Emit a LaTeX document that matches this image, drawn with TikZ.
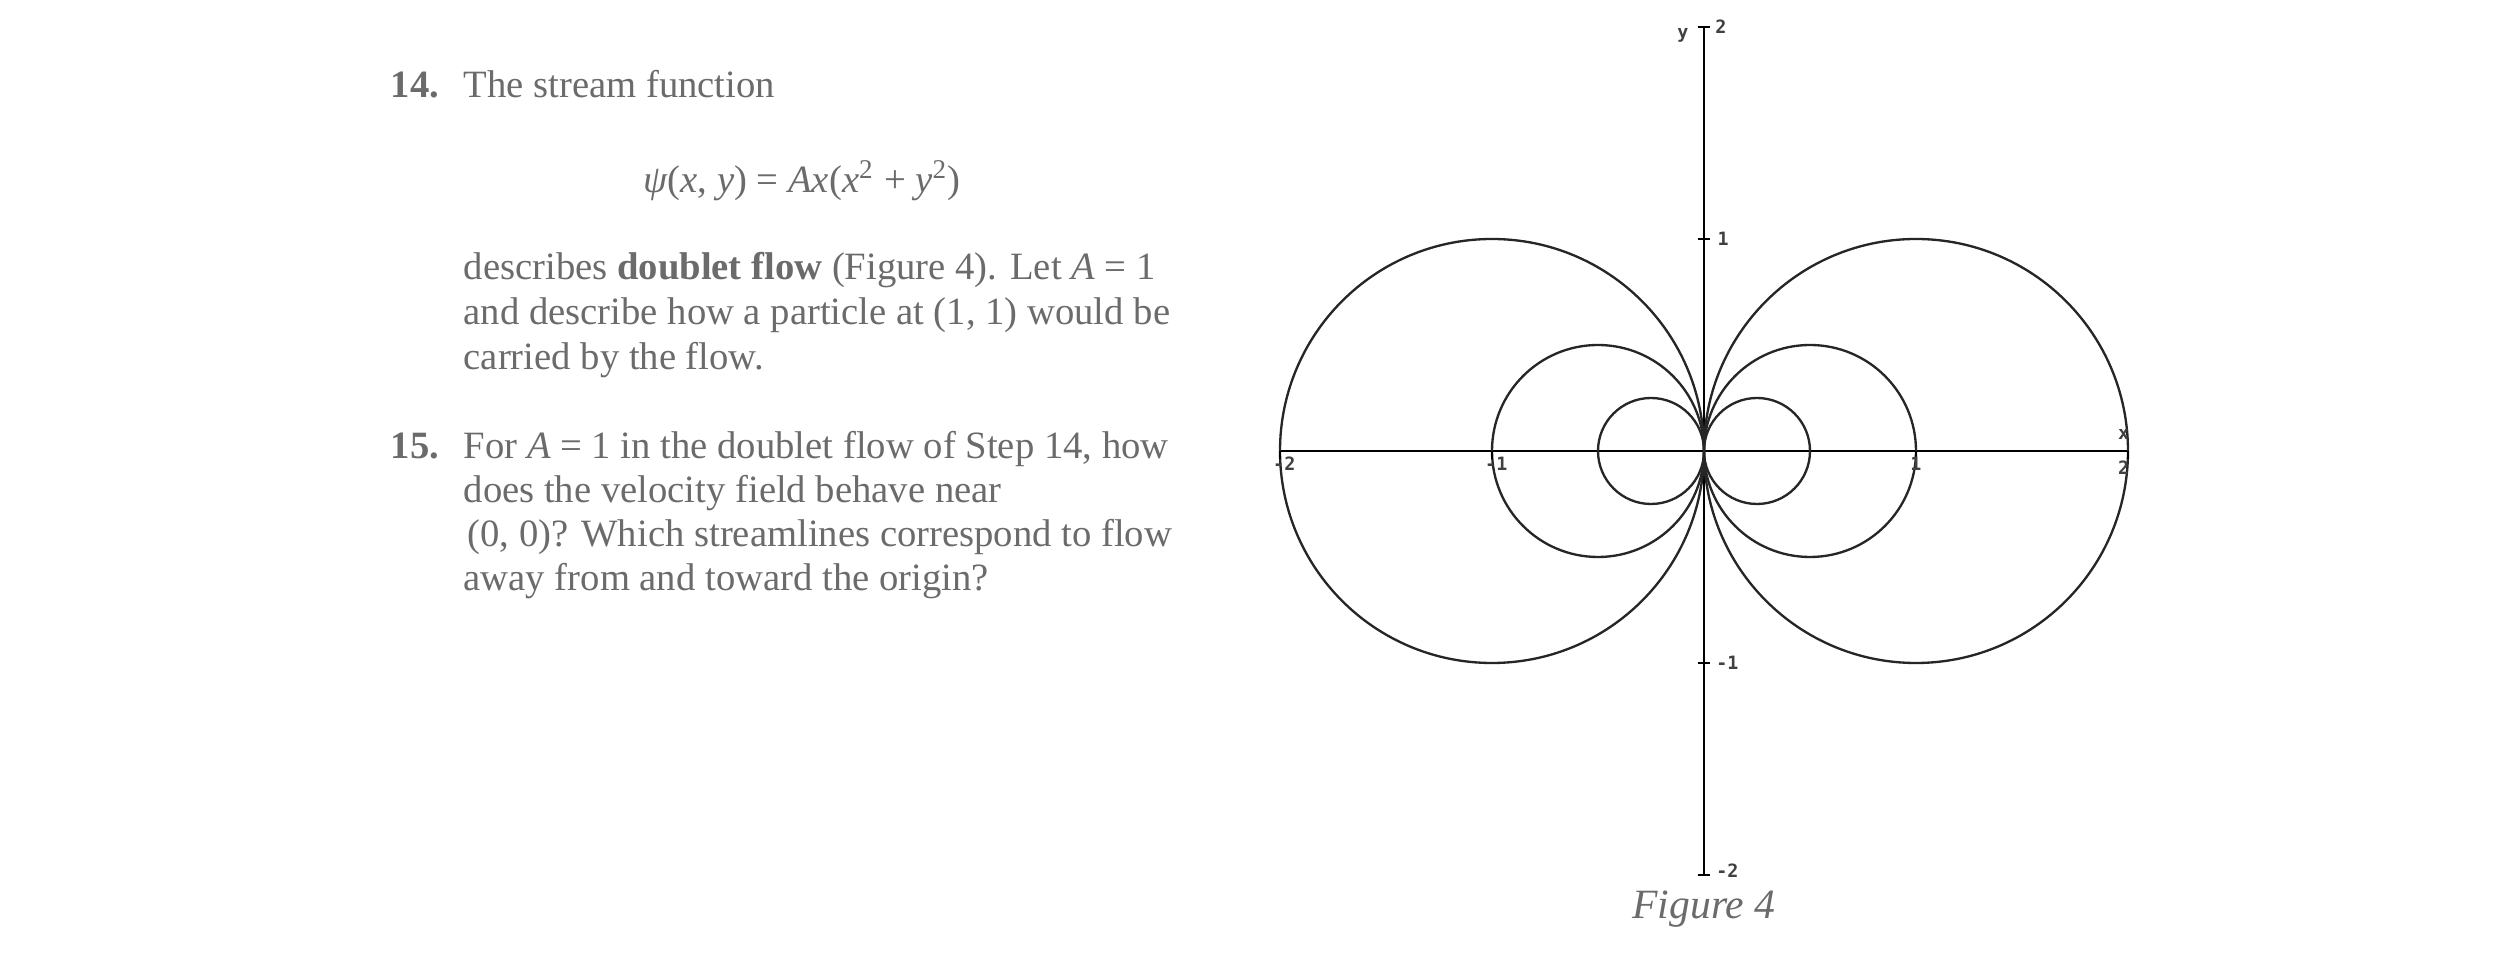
\documentclass[tikz,border=0pt]{standalone}
\usepackage{fontspec}
\setmainfont{Liberation Serif}
\newfontfamily\tickfont{DejaVu Sans Mono}
\definecolor{txt}{gray}{0.42}
\newcommand{\iv}[1]{\textit{#1}}
\begin{document}
\begin{tikzpicture}[x=0.3pt,y=-0.3pt,
  para/.style={anchor=base west,inner sep=0,text=txt,font=\fontsize{11.6}{13.5}\selectfont},
  tick/.style={inner sep=0,font=\tickfont\bfseries\fontsize{5.5}{6}\selectfont,text=black!75},
  curve/.style={line width=0.7pt,draw=black!85}]
\useasboundingbox (0,0) rectangle (2500,954);
\node[para] (n14) at (390,98) {\textbf{14.}};
\node[para] (t14) at (463,98) {The stream function};
\node[para,anchor=base] (eq) at (802,193) {\iv{ψ}(\iv{x},\ \iv{y})\ =\ \iv{Ax}(\iv{x}\textsuperscript{2}\ +\ \iv{y}\textsuperscript{2})};
\node[para] (p1) at (463,280) {describes \textbf{doublet flow} (Figure 4). Let \iv{A} = 1};
\node[para] (p2) at (463,325) {and describe how a particle at (1, 1) would be};
\node[para] (p3) at (463,370) {carried by the flow.};
\node[para] (n15) at (390,459) {\textbf{15.}};
\node[para] (q1) at (463,459) {For \iv{A} = 1 in the doublet flow of Step 14, how};
\node[para] (q2) at (463,503) {does the velocity field behave near};
\node[para] (q3) at (467,547) {(0, 0)? Which streamlines correspond to flow};
\node[para] (q4) at (463,591) {away from and toward the origin?};
\node[para,anchor=base,font=\itshape\fontsize{12.5}{14}\selectfont] (cap) at (1704,919) {Figure 4};
\begin{scope}[shift={(1704,451)},x=63.6pt,y=63.6pt]
  \coordinate (O) at (0,0);
  \draw[line width=0.6pt] (-2,0) -- (2,0);
  \draw[line width=0.6pt] (0,-2) -- (0,2);
  \foreach \s in {-1,1}{
    \draw[curve] (\s*1,0) circle[radius=1];
    \draw[curve] (\s*0.5,0) circle[radius=0.5];
    \draw[curve] (\s*0.25,0) circle[radius=0.25];
  }
  \foreach \v in {-2,-1,1,2}{
    \draw[line width=0.4pt] (\v,0) -- (\v,-0.04);
    \draw[line width=0.4pt] (-0.03,\v) -- (0.03,\v);
  }
  \node[tick] (y2) at (0.08,2.0) {2};
  \node[tick] (yl) at (-0.1,1.96) {y};
  \node[tick] (y1) at (0.09,1.0) {1};
  \node[tick] (ym1) at (0.11,-1.0) {-1};
  \node[tick] (ym2) at (0.11,-1.98) {-2};
  \node[tick] (xm2) at (-1.98,-0.06) {-2};
  \node[tick] (xm1) at (-0.98,-0.06) {-1};
  \node[tick] (x1) at (1.0,-0.06) {1};
  \node[tick] (x2) at (1.98,-0.08) {2};
  \node[tick] (xl) at (1.98,0.08) {x};
\end{scope}
\end{tikzpicture}
\end{document}
